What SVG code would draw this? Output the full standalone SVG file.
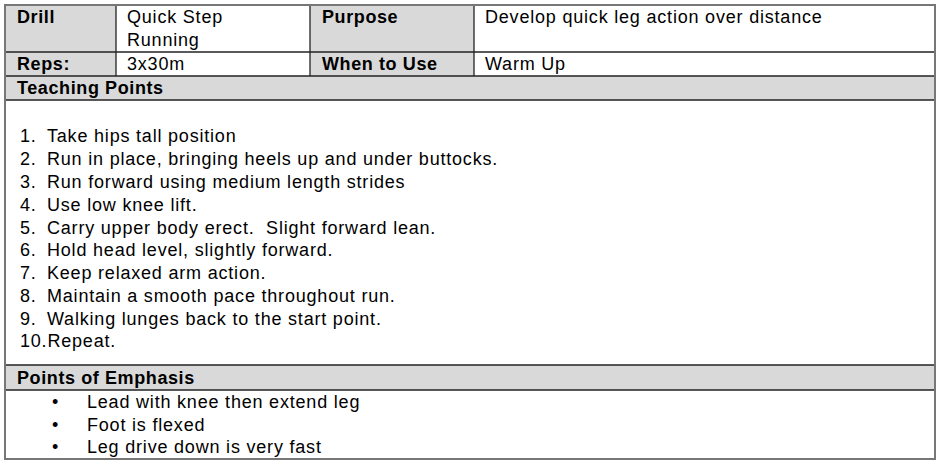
<svg xmlns="http://www.w3.org/2000/svg" width="940" height="464" viewBox="0 0 940 464">
<style>
text{font-family:"Liberation Sans",Arial,sans-serif;font-size:18px;letter-spacing:0.8px;fill:#000;white-space:pre}
.b{font-weight:bold;letter-spacing:0.6px}
.g{fill:#d9d9d9}
.l{stroke:#222;stroke-width:1.3}
</style>
<rect width="940" height="464" fill="#fff"/>
<g id="cells">
<rect class="g" x="5" y="5" width="111" height="71"/>
<rect class="g" x="310" y="5" width="164" height="71"/>
<rect class="g" x="5" y="76" width="930" height="24"/>
<rect class="g" x="5" y="365" width="930" height="25"/>
</g>
<g id="grid" class="l">
<line x1="5" y1="52" x2="935" y2="52"/>
<line x1="5" y1="76" x2="935" y2="76"/>
<line x1="5" y1="100" x2="935" y2="100"/>
<line x1="5" y1="365" x2="935" y2="365"/>
<line x1="5" y1="390" x2="935" y2="390"/>
<line x1="116" y1="5" x2="116" y2="76"/>
<line x1="310" y1="5" x2="310" y2="76"/>
<line x1="474" y1="5" x2="474" y2="76"/>
<rect x="5" y="5" width="930" height="454" fill="none" stroke="#777" stroke-width="2"/>
</g>
<g id="header">
<text class="b" x="17" y="23">Drill</text>
<text x="127" y="23">Quick Step</text>
<text x="127" y="46">Running</text>
<text class="b" x="322" y="23">Purpose</text>
<text x="485" y="23">Develop quick leg action over distance</text>
<text class="b" x="17" y="70">Reps:</text>
<text x="127" y="70">3x30m</text>
<text class="b" x="322" y="70">When to Use</text>
<text x="485" y="70">Warm Up</text>
</g>
<g id="teaching">
<text class="b" x="17" y="94">Teaching Points</text>
<text x="20" y="142">1.</text><text x="47" y="142">Take hips tall position</text>
<text x="20" y="165">2.</text><text x="47" y="165">Run in place, bringing heels up and under buttocks.</text>
<text x="20" y="188">3.</text><text x="47" y="188">Run forward using medium length strides</text>
<text x="20" y="211">4.</text><text x="47" y="211">Use low knee lift.</text>
<text x="20" y="234">5.</text><text x="47" y="234">Carry upper body erect.  Slight forward lean.</text>
<text x="20" y="256">6.</text><text x="47" y="256">Hold head level, slightly forward.</text>
<text x="20" y="279">7.</text><text x="47" y="279">Keep relaxed arm action.</text>
<text x="20" y="302">8.</text><text x="47" y="302">Maintain a smooth pace throughout run.</text>
<text x="20" y="325">9.</text><text x="47" y="325">Walking lunges back to the start point.</text>
<text x="20" y="347">10.Repeat.</text>
</g>
<g id="emphasis">
<text class="b" x="17" y="384">Points of Emphasis</text>
<text x="52" y="408">•</text><text x="87" y="408">Lead with knee then extend leg</text>
<text x="52" y="431">•</text><text x="87" y="431">Foot is flexed</text>
<text x="52" y="453">•</text><text x="87" y="453">Leg drive down is very fast</text>
</g>
</svg>
